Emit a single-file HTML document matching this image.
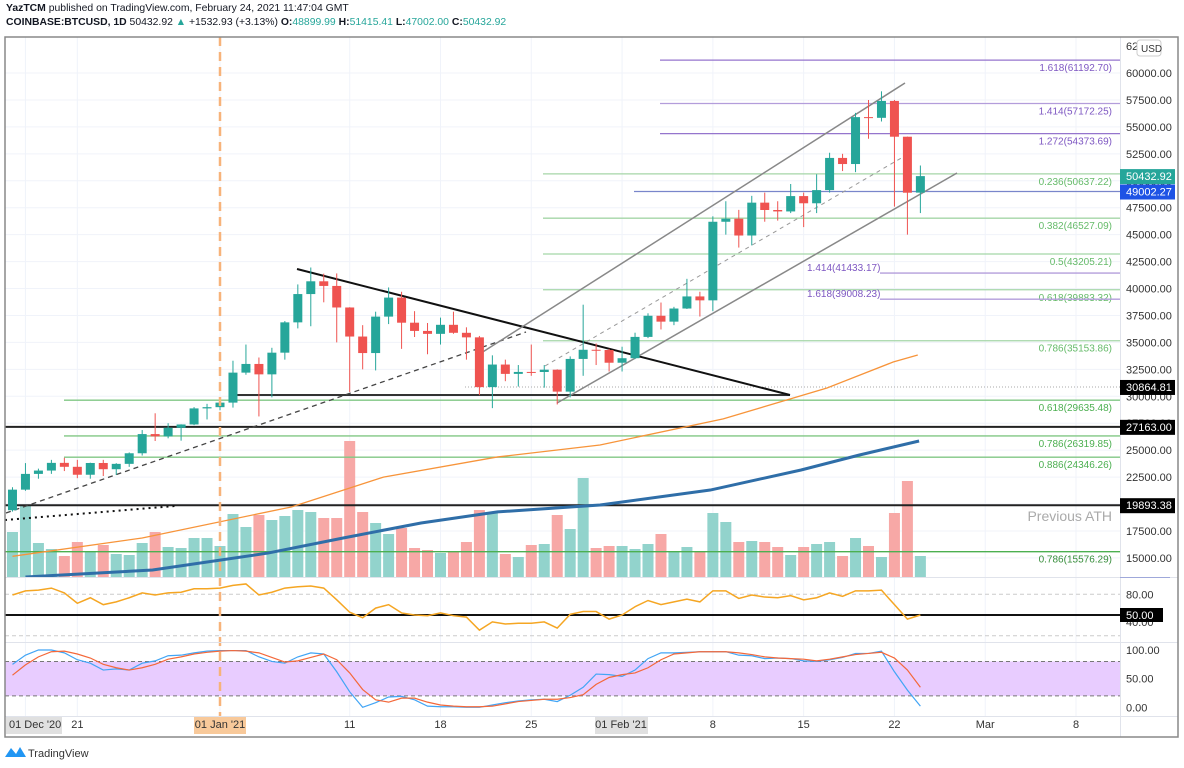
<!DOCTYPE html>
<html><head><meta charset="utf-8">
<style>
html,body{margin:0;padding:0;background:#fff;width:1184px;height:768px;overflow:hidden;font-family:"Liberation Sans",sans-serif;}
#hdr1{position:absolute;left:6px;top:3px;font-size:10.4px;color:#131722;}
#hdr2{position:absolute;left:6px;top:17px;font-size:10.4px;color:#131722;}
.g{color:#26a69a}
svg{position:absolute;left:0;top:0}
</style></head><body>
<div id="hdr1"><b>YazTCM</b> published on TradingView.com, February 24, 2021 11:47:04 GMT</div>
<div id="hdr2"><b>COINBASE:BTCUSD, 1D</b> 50432.92 <span class="g">▲</span> +1532.93 (+3.13%) <b>O:</b><span class="g">48899.99</span> <b>H:</b><span class="g">51415.41</span> <b>L:</b><span class="g">47002.00</span> <b>C:</b><span class="g">50432.92</span></div>
<svg id="chart" width="1184" height="768" font-family="Liberation Sans, sans-serif"></svg>
<script>
const dates=["Dec 16","Dec 17","Dec 18","Dec 19","Dec 20","Dec 21","Dec 22","Dec 23","Dec 24","Dec 25","Dec 26","Dec 27","Dec 28","Dec 29","Dec 30","Dec 31","Jan 1","Jan 2","Jan 3","Jan 4","Jan 5","Jan 6","Jan 7","Jan 8","Jan 9","Jan 10","Jan 11","Jan 12","Jan 13","Jan 14","Jan 15","Jan 16","Jan 17","Jan 18","Jan 19","Jan 20","Jan 21","Jan 22","Jan 23","Jan 24","Jan 25","Jan 26","Jan 27","Jan 28","Jan 29","Jan 30","Jan 31","Feb 1","Feb 2","Feb 3","Feb 4","Feb 5","Feb 6","Feb 7","Feb 8","Feb 9","Feb 10","Feb 11","Feb 12","Feb 13","Feb 14","Feb 15","Feb 16","Feb 17","Feb 18","Feb 19","Feb 20","Feb 21","Feb 22","Feb 23","Feb 24"];
const opens=[19426,21335,22797,23107,23821,23455,22719,23810,23232,23729,24712,26493,26281,27079,27385,28875,28990,29412,32195,33000,32035,34047,36860,39486,40670,40240,38240,35544,34011,37393,39158,36828,36065,35793,36632,35891,35468,30850,32945,32078,32259,32254,32467,30432,33466,34316,34295,33114,33533,35510,37472,36926,38144,39266,38903,46196,46481,44919,47969,47287,47153,48577,47911,49133,52119,51552,55906,55841,57408,54087,48899];
const highs=[21560,23800,23285,24100,24295,24102,23837,24100,23794,24789,26867,28422,27500,27400,28996,29300,29680,33300,34800,33600,34500,36980,40380,41950,41380,41400,38265,36600,37850,40100,39700,37900,36800,37300,37850,36400,35600,33800,33400,32900,34800,32900,32500,33700,38500,34900,34400,34600,35900,37700,38700,38300,40900,39700,46700,48100,47300,48600,48900,48100,49700,48900,50600,52600,52500,56300,57500,58300,57500,54100,51415];
const lows=[19300,21230,22350,22800,23060,22400,22350,22600,22700,23450,24500,25850,26100,25880,27320,27850,28700,28950,32000,28130,29900,33400,36300,36500,38720,35000,30400,32500,32400,36700,34400,35500,33900,34800,35800,33400,30100,28900,31400,30900,31900,30800,29240,29900,31900,32900,32300,32300,33450,35400,36200,36600,38100,37400,37900,45000,43800,44000,46200,46300,47000,45700,47000,48900,50900,50800,53900,55500,47600,45000,47002];
const closes=[21335,22797,23107,23821,23455,22719,23810,23232,23729,24712,26493,26281,27079,27385,28875,28990,29412,32195,33000,32035,34047,36860,39486,40670,40240,38240,35544,34011,37393,39158,36828,36065,35793,36632,35891,35468,30850,32945,32078,32259,32254,32467,30432,33466,34316,34295,33114,33533,35510,37472,36926,38144,39266,38903,46196,46481,44919,47969,47287,47153,48577,47911,49133,52119,51552,55906,55841,57408,54087,48891,50432];
const volumes=[45,71,34,28,21,35,26,32,23,22,34,45,30,29,39,39,31,63,50,62,57,61,67,65,59,59,136,65,54,43,49,29,27,24,26,35,67,65,23,20,32,33,62,48,99,29,31,31,28,33,43,26,30,26,64,55,35,36,35,30,22,30,33,35,21,39,31,20,64,96,21];
const rsi=[79,85,86,89,82,67,75,65,69,75,82,79,82,83,88,88,89,93,95,79,83,89,91,92,89,72,54,46,60,65,53,50,49,53,49,47,28,40,37,38,38,40,31,51,55,55,44,50,62,71,65,69,73,69,85,85,74,79,76,75,78,72,75,82,77,85,85,86,65,44,50];
const stochK=[75,91,100,100,95,83,77,65,67,65,77,81,90,91,95,98,99,99,99,88,80,77,88,95,93,62,27,0,8,18,19,13,2,1,1,0,0,4,8,11,13,14,10,21,35,58,57,54,65,85,95,95,96,97,97,97,91,90,85,86,85,81,80,83,87,94,94,98,62,30,2];
const stochD=[56,74,88,97,98,93,86,75,69,65,69,75,84,88,93,96,98,99,98,95,87,79,81,87,93,83,60,31,13,9,16,16,9,4,2,1,1,2,6,10,12,14,14,17,22,40,52,57,60,69,83,93,95,97,97,97,95,92,88,86,85,84,81,84,88,92,94,96,86,65,35];
const emaDays=[-16,-6,5.5,12.6,21.4,29.3,38.8,46.8,51.9,53.8];
const emaValues=[15150,16850,19730,22500,24370,25480,27900,30770,33180,33830];
const smaDays=[-15,-5.2,3.7,9.5,15.5,21.4,29.3,37.8,44.8,49.3,53.9];
const smaValues=[13230,13880,15450,16850,18240,19270,19910,21300,23160,24550,25850];
const priceTicks=[60000,57500,55000,52500,50000,47500,45000,42500,40000,37500,35000,32500,30000,27500,25000,22500,20000,17500,15000];
const timeLabels=["21","11","18","25","8","15","22","Mar","8"];
const timeLabelDays=[-11,10,17,24,38,45,52,59,66];
const fibLevels=[61192.70,57172.25,54373.69,50637.22,46527.09,43205.21,39883.32,35153.86,29635.48,26319.85,24346.26,15576.29];
const fibRatios=["1.618","1.414","1.272","0.236","0.382","0.5","0.618","0.786","0.618","0.786","0.886","0.786"];

const NS="http://www.w3.org/2000/svg";
const svg=document.getElementById('chart');
const X=i=>220+12.97*(i-16);
const XD=d=>220+12.97*d;
const PY=p=>73+(60000-p)*0.010776;
const RY=v=>615-(v-50)*0.69;
const SY=v=>707.3-v*0.573;
const VY=v=>577-v;
function mk(tag,attrs,parent){const e=document.createElementNS(NS,tag);for(const k in attrs)e.setAttribute(k,attrs[k]);(parent||svg).appendChild(e);return e;}
function txt(s,attrs,parent){const e=mk('text',attrs,parent);e.textContent=s;return e;}

const defs=mk('defs',{});
const cp=mk('clipPath',{id:'main'},defs);mk('rect',{x:5,y:37,width:1115,height:540},cp);
const cp2=mk('clipPath',{id:'subs'},defs);mk('rect',{x:5,y:578,width:1115,height:138},cp2);

const grid=mk('g',{stroke:'#f0f3fa','stroke-width':1});

priceTicks.forEach(p=>mk('line',{x1:5,x2:1120,y1:PY(p),y2:PY(p)},grid));
[-15].concat(timeLabelDays).concat([0,31]).forEach(d=>mk('line',{x1:XD(d),x2:XD(d),y1:37,y2:716},grid));

const main=mk('g',{'clip-path':'url(#main)'});

volumes.forEach((v,i)=>{const up=closes[i]>=opens[i];const r=mk('rect',{x:X(i)-5.5,y:VY(v),width:11,height:v,fill:up?'#92d3cc':'#f7a8a6'},main);

});
const fibStart=[660,660,660,543,543,543,543,543,64,64,64,5];
const fibColor=['#9575cd','#b39ddb','#9575cd','#a5d6a7','#a5d6a7','#a5d6a7','#a5d6a7','#a5d6a7','#81c784','#81c784','#81c784','#4caf50'];
const fibText=['#7e57c2','#7e57c2','#7e57c2','#66bb6a','#66bb6a','#66bb6a','#66bb6a','#66bb6a','#4caf50','#4caf50','#4caf50','#388e3c'];
fibLevels.forEach((p,i)=>{const l=mk('line',{x1:fibStart[i],x2:1120,y1:PY(p),y2:PY(p),stroke:fibColor[i],'stroke-width':1.3},main);


const t=txt(fibRatios[i]+'('+p.toFixed(2)+')',{x:1112,y:PY(p)+11,'text-anchor':'end','font-size':10,fill:fibText[i]},main);

});
[[41433.17,'1.414'],[39008.23,'1.618']].forEach(a=>{mk('line',{x1:880,x2:1120,y1:PY(a[0]),y2:PY(a[0]),stroke:'#b39ddb','stroke-width':1.3},main);
const t=txt(a[1]+'('+a[0].toFixed(2)+')',{x:807,y:PY(a[0])-2,'font-size':10,fill:'#7e57c2'},main);

});
mk('line',{x1:634,x2:1120,y1:PY(49002.27),y2:PY(49002.27),stroke:'#7986cb','stroke-width':1.3},main);
mk('line',{x1:465,x2:1120,y1:PY(30864.81),y2:PY(30864.81),stroke:'#aaa','stroke-width':1,'stroke-dasharray':'1 2'},main);
mk('line',{x1:5,x2:1120,y1:PY(27163),y2:PY(27163),stroke:'#222','stroke-width':2},main);
mk('line',{x1:5,x2:1120,y1:PY(19893.38),y2:PY(19893.38),stroke:'#222','stroke-width':2},main);
mk('line',{x1:232,x2:790,y1:395,y2:395,stroke:'#333','stroke-width':2},main);
mk('line',{x1:297,y1:269,x2:790,y2:395,stroke:'#111','stroke-width':2},main);
mk('line',{x1:5,y1:520,x2:175,y2:506,stroke:'#111','stroke-width':2,'stroke-dasharray':'2 4'},main);
mk('line',{x1:6,y1:513,x2:526,y2:332,stroke:'#444','stroke-width':1.3,'stroke-dasharray':'5 4'},main);
mk('line',{x1:545,y1:366,x2:903,y2:157,stroke:'#999','stroke-width':1,'stroke-dasharray':'4 4'},main);
mk('line',{x1:478,y1:355,x2:905,y2:83,stroke:'#888','stroke-width':1.5},main);
mk('line',{x1:557,y1:403,x2:957,y2:173,stroke:'#888','stroke-width':1.5},main);
const prevAth=txt('Previous ATH',{x:1112,y:521,'text-anchor':'end','font-size':14,fill:'#aaa'},main);


const ema=mk('polyline',{points:emaDays.map((d,i)=>XD(d)+','+PY(emaValues[i])).join(' '),fill:'none',stroke:'#f7943a','stroke-width':1.3},main);

const sma=mk('polyline',{points:smaDays.map((d,i)=>XD(d)+','+PY(smaValues[i])).join(' '),fill:'none',stroke:'#2f6ea8','stroke-width':3},main);

opens.forEach((o,i)=>{const c=closes[i];const up=c>=o;const col=up?'#26a69a':'#ef5350';const g=mk('g',{},main);


mk('line',{x1:X(i),x2:X(i),y1:PY(highs[i]),y2:PY(lows[i]),stroke:col,'stroke-width':1},g);
const t=PY(Math.max(o,c)),b=PY(Math.min(o,c));
mk('rect',{x:X(i)-4.5,y:t,width:9,height:Math.max(1,b-t),fill:col},g);});

const sub=mk('g',{'clip-path':'url(#subs)'});

mk('line',{x1:5,x2:1120,y1:RY(80),y2:RY(80),stroke:'#ccc','stroke-dasharray':'4 3'},sub);
mk('line',{x1:5,x2:1120,y1:RY(20),y2:RY(20),stroke:'#ccc','stroke-dasharray':'4 3'},sub);
mk('line',{x1:5,x2:1120,y1:RY(50),y2:RY(50),stroke:'#111','stroke-width':2},sub);
const rl=mk('polyline',{points:rsi.map((v,i)=>X(i)+','+RY(v)).join(' '),fill:'none',stroke:'#f5a623','stroke-width':1.5},sub);

mk('rect',{x:5,y:SY(80),width:1115,height:SY(20)-SY(80),fill:'#e8ccff'},sub);
mk('line',{x1:5,x2:1120,y1:SY(80),y2:SY(80),stroke:'#777','stroke-dasharray':'4 3'},sub);
mk('line',{x1:5,x2:1120,y1:SY(20),y2:SY(20),stroke:'#777','stroke-dasharray':'4 3'},sub);
const kl=mk('polyline',{points:stochK.map((v,i)=>X(i)+','+SY(v)).join(' '),fill:'none',stroke:'#42a5f5','stroke-width':1.2},sub);

const dl=mk('polyline',{points:stochD.map((v,i)=>X(i)+','+SY(v)).join(' '),fill:'none',stroke:'#f4683a','stroke-width':1.2},sub);


mk('line',{x1:220,x2:220,y1:37,y2:716,stroke:'#f7b37a','stroke-width':2.5,'stroke-dasharray':'9 6'});
mk('line',{x1:5,x2:1178,y1:577.5,y2:577.5,stroke:'#e0e3eb'});
mk('line',{x1:5,x2:1178,y1:642.5,y2:642.5,stroke:'#e0e3eb'});
mk('line',{x1:5,x2:1178,y1:716.5,y2:716.5,stroke:'#e0e3eb'});
mk('line',{x1:1120.5,x2:1120.5,y1:37,y2:737,stroke:'#e0e3eb'});
mk('line',{x1:1120,x2:1170,y1:577.5,y2:577.5,stroke:'#9fa8da'});
mk('rect',{x:5,y:37,width:1173,height:700,fill:'none',stroke:'#888','stroke-width':1.5});

const ax=mk('g',{'font-size':11,fill:'#333'});

priceTicks.forEach(p=>txt(p.toFixed(2),{x:1126,y:PY(p)+4},ax));
txt('62',{x:1126,y:50},ax);
const usd=mk('g',{});
mk('rect',{x:1137,y:40,width:24,height:16,rx:3,fill:'#fff',stroke:'#ccc'},usd);
txt('USD',{x:1141,y:52,'font-size':10,fill:'#333'},usd);
[[50432.92,'#26a69a'],[49002.27,'#1e53e5'],[30864.81,'#000'],[27163.00,'#000'],[19893.38,'#000']].forEach(a=>{const g=mk('g',{});


mk('rect',{x:1120,y:PY(a[0])-7,width:55,height:15,fill:a[1]},g);
txt(a[0].toFixed(2),{x:1126,y:PY(a[0])+4,'font-size':11,fill:'#fff'},g);});
const rax=mk('g',{'font-size':11,fill:'#333'});

txt('80.00',{x:1126,y:RY(80)+4},rax);txt('40.00',{x:1126,y:RY(40)+4},rax);
mk('rect',{x:1120,y:RY(50)-7,width:43,height:14,fill:'#000'},rax);
txt('50.00',{x:1126,y:RY(50)+4,fill:'#fff'},rax);
const sax=mk('g',{'font-size':11,fill:'#333'});

[100,50,0].forEach(v=>txt(v.toFixed(2),{x:1126,y:SY(v)+4},sax));

const tax=mk('g',{'font-size':11,fill:'#333'});

timeLabels.forEach((s,i)=>txt(s,{x:XD(timeLabelDays[i]),y:728,'text-anchor':'middle'},tax));
mk('rect',{x:6,y:717,width:56,height:17,fill:'#e0e0e0'},tax);
txt("01 Dec '20",{x:9,y:728},tax);
mk('rect',{x:194,y:717,width:52,height:17,fill:'#f8c99a'},tax);
txt("01 Jan '21",{x:220,y:728,'text-anchor':'middle'},tax);
mk('rect',{x:595,y:717,width:53,height:17,fill:'#e0e0e0'},tax);
txt("01 Feb '21",{x:621,y:728,'text-anchor':'middle'},tax);

const logo=mk('g',{});
mk('path',{d:'M5 757 L11 748 L16 754 L20 747 L26 757 Z',fill:'#2196f3'},logo);
txt('TradingView',{x:28,y:757,'font-size':11,fill:'#333'},logo);
</script>
</body></html>
